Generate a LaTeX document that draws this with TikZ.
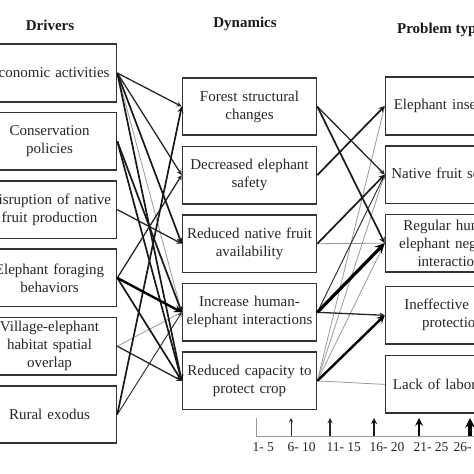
\documentclass[tikz,border=0pt]{standalone}
\usepackage{fontspec}
\setmainfont{Liberation Serif}
\usetikzlibrary{arrows, positioning}

\begin{document}
\begin{tikzpicture}[x=1pt, y=-1pt]
		\tikzstyle{Box} = [rectangle, minimum width=134pt, minimum height=57.5pt, text width=132pt, align=center, draw=black!80, line width=1.6pt, text=black!85, inner sep=0pt, font=\fontsize{15pt}{18pt}\selectfont]
		\tikzstyle{Head} = [text=black!90, font=\fontsize{15pt}{18pt}\selectfont\bfseries]
		\tikzstyle{Tick} = [text=black!85, anchor=west, font=\fontsize{13.5pt}{16pt}\selectfont]
		\tikzstyle{fA} = [black!40, line width=0.8pt]
		\tikzstyle{fB} = [black!85, line width=0.9pt, ->, >=stealth]
		\tikzstyle{fC} = [black!85, line width=1.3pt, ->, >=stealth]
		\tikzstyle{fD} = [black!90, line width=1.7pt, ->, >=stealth]
		\tikzstyle{fE} = [black, line width=2.4pt, ->, >=stealth]
		\tikzstyle{fF} = [black, line width=3.2pt, ->, >=stealth]
		
		\useasboundingbox (0,0) rectangle (474,474);
		
		% column heads
		\node (drivers) [Head] at (50,25) {Drivers};
		\node (dynamics) [Head] at (245,24) {Dynamics};
		\node (problems) [Head] at (443,30) {Problem types};
		
		% drivers
		\node (L1) [Box] at (49.5,73) {Economic activities};
		\node (L2) [Box, below = 9.2pt of L1] {Conservation\\policies};
		\node (L3) [Box, below = 9.2pt of L2] {Disruption of native\\fruit production};
		\node (L4) [Box, below = 9.2pt of L3] {Elephant foraging\\behaviors};
		\node (L5) [Box, below = 9.2pt of L4] {Village-elephant\\habitat spatial\\overlap};
		\node (L6) [Box, below = 9.2pt of L5] {Rural exodus};
		
		% dynamics
		\node (D1) [Box] at (249.5,106.5) {Forest structural\\changes};
		\node (D2) [Box, below = 9.5pt of D1] {Decreased elephant\\safety};
		\node (D3) [Box, below = 9.5pt of D2] {Reduced native fruit\\availability};
		\node (D4) [Box, below = 9.5pt of D3] {Increase human-\\elephant interactions};
		\node (D5) [Box, below = 9.5pt of D4] {Reduced capacity to\\protect crop};
		
		% problem types
		\node (P1) [Box] at (452.5,106) {Elephant insecurity};
		\node (P2) [Box, below = 9.5pt of P1] {Native fruit scarcity};
		\node (P3) [Box, below = 9.5pt of P2] {Regular human-\\elephant negative\\interactions};
		\node (P4) [Box, below = 13pt of P3] {Ineffective crop\\protection};
		\node (P5) [Box, below = 10pt of P4] {Lack of labor force};
		
		% links, drawn by weight
		\foreach \a/\b/\w in {L1/D4/fA, L5/D4/fA, D3/P3/fA, D5/P1/fA, D5/P2/fA, D5/P3/fA, D5/P5/fA,
				L6/D4/fB, D4/P2/fB,
				L1/D1/fC, L1/D2/fC, L3/D3/fC, L4/D2/fC, L5/D5/fC, D1/P2/fC, D4/P4/fC,
				L1/D3/fD, L1/D5/fD, L2/D4/fD, L2/D5/fD, L4/D5/fD, L6/D1/fD, D1/P3/fD, D2/P1/fD, D3/P2/fD,
				L4/D4/fE, D5/P4/fE,
				D4/P3/fF}
			\draw[\w] (\a.east) -- (\b.west);
		
		% legend
		\coordinate (axis) at (256,436);
		\coordinate (axisend) at (480,436);
		\draw[fA] (axis) -- (axisend);
		\foreach \x/\lx/\w/\lab [count=\i] in {256/249/fA/1- 5, 291/284/fB/6- 10, 330/323/fC/11- 15, 374/366/fD/16- 20, 419/410/fE/21- 25, 470/450/fF/26- 30} {
			\coordinate (t\i) at (\x,436);
			\coordinate (h\i) at (\x,418);
			\draw[\w] (t\i) -- (h\i);
			\node (lab\i) [Tick] at (\lx,447) {\lab};
		}
		
\end{tikzpicture}
\end{document}
